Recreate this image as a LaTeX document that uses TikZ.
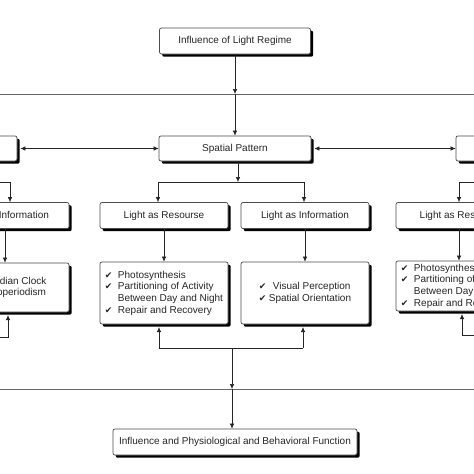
\documentclass[tikz,border=0pt]{standalone}
\usepackage{fontspec}
\setmainfont{Liberation Sans}
\newfontfamily\symfont{DejaVu Sans}
\usetikzlibrary{arrows.meta,shadows}
\newcommand{\chk}[1][13pt]{\makebox[#1][l]{\symfont\fontsize{9}{9}\selectfont ✔}}
\begin{document}
\begin{tikzpicture}[x=1pt,y=-1pt,
  box/.style={draw=black!70, line width=0.7pt, fill=white, rounded corners=2pt, inner sep=0pt,
    drop shadow={shadow xshift=2.7pt, shadow yshift=-2.7pt, fill=black, opacity=1},
    text=black!85, font=\fontsize{10}{11.7}\selectfont, align=center},
  listbox/.style={box, align=left},
  arr/.style={draw=black!85, line width=0.6pt, -{Latex[length=5pt,width=4.5pt]}},
  dbl/.style={draw=black!85, line width=0.6pt, {Latex[length=5pt,width=4.5pt]}-{Latex[length=5pt,width=4.5pt]}},
  ln/.style={draw=black!85, line width=0.6pt},
  sep/.style={draw=black!60, line width=0.9pt}]
\useasboundingbox (0,0) rectangle (474,474);
\fill[white] (0,0) rectangle (474,474);
\clip (0,0) rectangle (474,474);

% boxes
\node[box, minimum width=151pt, minimum height=26pt] (top) at (235,41) {Influence of Light Regime};
\node[box, minimum width=152pt, minimum height=25pt] (sp) at (235,148.5) {Spatial Pattern};
\node[box, minimum width=152pt, minimum height=25pt] (tl) at (-59,148.5) {};
\node[box, minimum width=152pt, minimum height=25pt] (tr) at (532,148.5) {};

\node[box, minimum width=128pt, minimum height=26pt] (infL) at (5,215.5) {Light as Information};
\node[box, minimum width=128pt, minimum height=26pt] (resL) at (164,215.5) {Light as Resourse};
\node[box, minimum width=128pt, minimum height=26pt] (infM) at (305,215.5) {Light as Information};
\node[box, minimum width=128pt, minimum height=26pt] (resR) at (460,215.5) {Light as Resourse};

\node[listbox, minimum width=128pt, minimum height=49pt] (circ) at (5,287.5)
  {\chk Circadian Clock\\\chk Photoperiodism};
\node[listbox, minimum width=128pt, minimum height=62pt] (listRes) at (164,293)
  {\chk Photosynthesis\\\chk Partitioning of Activity\\\hspace*{13pt}Between Day and Night\\\chk Repair and Recovery};
\node[listbox, minimum width=128pt, minimum height=62pt] (listInf) at (305,293)
  {\chk[14pt]Visual Perception\\\chk[10pt]Spatial Orientation};
\node[listbox, minimum width=128pt, minimum height=50pt] (listResR) at (460,286)
  {\chk Photosynthesis\\\chk Partitioning of Activity\\\hspace*{13pt}Between Day and Night\\\chk Repair and Recovery};

\node[box, minimum width=244pt, minimum height=26pt] (bot) at (235,442) {Influence and Physiological and Behavioral Function};

% upper separator
\coordinate (s1L) at (0,94);
\coordinate (s1R) at (474,94);
\coordinate (s1) at (235,94);
\draw[sep] (s1L) -- (s1R);
\draw[arr] (top.south) -- (s1);
\draw[arr] (s1) -- (sp.north);

% pattern links
\draw[dbl, shorten <=3pt] (tl.east) -- (sp.west);
\draw[dbl, shorten <=3pt] (sp.east) -- (tr.west);

% branch to light boxes
\coordinate (j1) at (238,182);
\coordinate (jL) at (158,182);
\coordinate (jR) at (304,182);
\draw[arr] (sp.south -| j1) -- (j1);
\draw[ln] (jL) -- (jR);
\draw[arr] (jL) -- (jL |- resL.north);
\draw[arr] (jR) -- (jR |- infM.north);
\coordinate (lA) at (0,182);
\coordinate (lB) at (10,182);
\draw[arr] (lA) -| (lB |- infL.north);
\coordinate (rA) at (474,182);
\coordinate (rB) at (459,182);
\draw[arr] (rA) -| (rB |- resR.north);

% light boxes to lists
\draw[arr] (infL.south) -- (circ.north);
\draw[arr] (resL.south) -- (listRes.north);
\draw[arr] (infM.south) -- (listInf.north);
\draw[arr] ([xshift=-1pt]resR.south) -- ([xshift=-1pt]listResR.north);

% lower links
\coordinate (kL) at (159,348);
\coordinate (kR) at (303,348);
\coordinate (k) at (232,348);
\draw[ln] (kL) -- (kR);
\draw[arr, shorten >=2.7pt] (kL) -- (kL |- listRes.south);
\draw[arr, shorten >=2.7pt] (kR) -- (kR |- listInf.south);
\coordinate (cA) at (0,337);
\coordinate (cB) at (8,337);
\draw[arr, shorten >=2.7pt] (cA) -| (cB |- circ.south);
\coordinate (dA) at (474,335);
\coordinate (dB) at (462,335);
\draw[arr, shorten >=2.7pt] (dA) -| (dB |- listResR.south);

% lower separator
\coordinate (s2L) at (0,389);
\coordinate (s2R) at (474,389);
\coordinate (s2) at (232,389);
\draw[sep] (s2L) -- (s2R);
\draw[arr] (k) -- (s2);
\draw[arr] (s2) -- (s2 |- bot.north);
\end{tikzpicture}
\end{document}
